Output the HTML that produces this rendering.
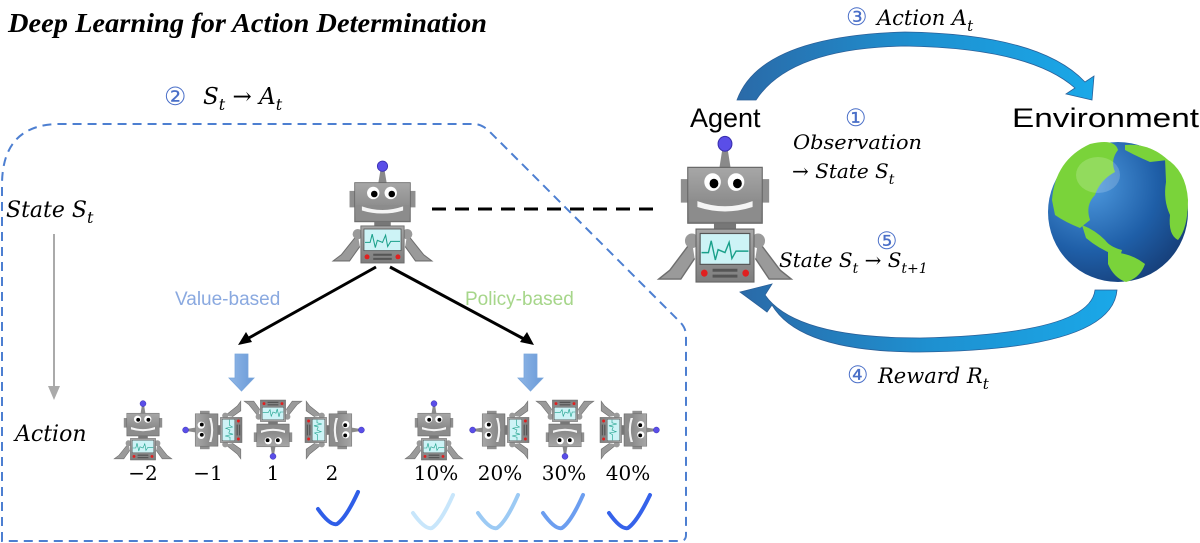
<!DOCTYPE html>
<html><head><meta charset="utf-8"><style>
html,body{margin:0;padding:0;background:#fff;}
svg{display:block;}
.m{font-family:"DejaVu Serif","Liberation Serif",serif;font-style:italic;}
.n{font-family:"DejaVu Serif","Liberation Serif",serif;}
.c{font-family:"DejaVu Sans","Liberation Sans",sans-serif;fill:#4a6fc8;}
.s{font-family:"Liberation Sans",sans-serif;}
</style></head><body>
<svg width="1200" height="543" viewBox="0 0 1200 543" xmlns="http://www.w3.org/2000/svg">
<defs>
<linearGradient id="gb" x1="0" y1="0" x2="0" y2="1"><stop offset="0" stop-color="#a7a7a7"/><stop offset="1" stop-color="#7d7d7d"/></linearGradient>
<radialGradient id="eg" cx="0.3" cy="0.3" r="0.8"><stop offset="0" stop-color="#4f9be0"/><stop offset="0.6" stop-color="#1f5fa8"/><stop offset="1" stop-color="#163e78"/></radialGradient>
<linearGradient id="ar" x1="0" y1="0" x2="1" y2="0"><stop offset="0" stop-color="#2a6aa8"/><stop offset="0.5" stop-color="#1e90d0"/><stop offset="1" stop-color="#1aa8e8"/></linearGradient>
<linearGradient id="da" x1="0" y1="0" x2="1" y2="0"><stop offset="0" stop-color="#8fb6e6"/><stop offset="1" stop-color="#6a9ad8"/></linearGradient>
<g id="rb">
 <path d="M26 72 L10 92 L2 98 L18 98 L28 84" fill="#9a9a9a" stroke="#6e6e6e" stroke-width="1"/>
 <path d="M74 72 L90 92 L98 98 L82 98 L72 84" fill="#9a9a9a" stroke="#6e6e6e" stroke-width="1"/>
 <circle cx="26" cy="72" r="5" fill="#9a9a9a"/><circle cx="74" cy="72" r="5" fill="#9a9a9a"/>
 <path d="M48 10 L52 10 L54 22 L46 22Z" fill="#8a8a8a"/>
 <circle cx="50" cy="6" r="5" fill="#5a4ee8" stroke="#3a30b0" stroke-width="0.8"/>
 <rect x="18" y="30" width="6" height="16" fill="#8f8f8f"/><rect x="76" y="30" width="6" height="16" fill="#8f8f8f"/>
 <rect x="23" y="22" width="54" height="38" fill="url(#gb)" stroke="#666" stroke-width="0.8"/>
 <rect x="24" y="44" width="52" height="15" fill="#8c8c8c"/>
 <path d="M30 45 Q50 52 70 45 L70 49 Q50 55 30 49Z" fill="#f4f4f4"/>
 <circle cx="41" cy="32" r="6" fill="#fff"/><circle cx="58" cy="32" r="6" fill="#fff"/>
 <circle cx="42" cy="33" r="3.2" fill="#000"/><circle cx="59" cy="33" r="3.2" fill="#000"/>
 <rect x="42" y="60" width="16" height="4" fill="#777"/>
 <rect x="29" y="64" width="42" height="36" fill="url(#gb)" stroke="#666" stroke-width="0.8"/>
 <rect x="32" y="67" width="36" height="21" fill="#cdf3f6" stroke="#555" stroke-width="0.8"/>
 <path d="M33 80 L38 80 L40 72 L43 85 L45 78 L50 80 L53 73 L55 84 L58 79 L67 79" fill="none" stroke="#1aa08a" stroke-width="1"/>
 <circle cx="35" cy="94" r="2.4" fill="#e02020"/><circle cx="65" cy="94" r="2.4" fill="#e02020"/>
 <rect x="41" y="91" width="18" height="2" fill="#555"/><rect x="41" y="95" width="18" height="2" fill="#555"/>
</g>
</defs>

<text x="8" y="32" font-family="Liberation Serif,serif" font-weight="bold" font-style="italic" font-size="27" textLength="479" lengthAdjust="spacingAndGlyphs">Deep Learning for Action Determination</text>

<text x="164" y="105" class="c" font-size="25" font-weight="200">②</text>
<text x="203" y="104" class="m" font-size="23">S<tspan font-size="16" dy="6">t</tspan><tspan dy="-6" font-style="normal"> → </tspan>A<tspan font-size="16" dy="6">t</tspan></text>

<path d="M2 541 L2 185 Q2 124 60 124 L474 124 Q482 124 490 132 L680 322 Q686 328 686 336 L686 535 Q686 541 680 541 Z" fill="none" stroke="#4d7fd1" stroke-width="2" stroke-dasharray="9,6"/>

<text x="6" y="217" class="m" font-size="22">State S<tspan font-size="16" dy="6">t</tspan></text>
<line x1="54" y1="234" x2="54" y2="392" stroke="#aaa" stroke-width="2"/>
<path d="M48 386 L54 400 L60 386Z" fill="#aaa"/>
<text x="15" y="441" class="m" font-size="22">Action</text>

<use href="#rb" transform="translate(331,160) scale(1.03)"/>
<line x1="432" y1="209" x2="662" y2="209" stroke="#000" stroke-width="3" stroke-dasharray="14,9"/>

<line x1="376" y1="267" x2="247" y2="339" stroke="#000" stroke-width="3"/>
<path d="M238 345 L246 332 L252 342Z" fill="#000"/>
<line x1="390" y1="267" x2="524" y2="339" stroke="#000" stroke-width="3"/>
<path d="M534 345 L520 342 L527 332Z" fill="#000"/>
<text x="175" y="305" class="s" font-size="19" fill="#8aa9e0">Value-based</text>
<text x="465" y="305" class="s" font-size="19" fill="#a6d68a">Policy-based</text>

<path d="M235 354 H248 V378 H254 L241.5 391 L229 378 H235Z" fill="url(#da)" stroke="#7aa6dc" stroke-width="0.8"/>
<path d="M524 354 H537 V378 H543 L530.5 391 L518 378 H524Z" fill="url(#da)" stroke="#7aa6dc" stroke-width="0.8"/>

<use href="#rb" transform="translate(143,430) scale(0.6) translate(-50,-50)"/>
<use href="#rb" transform="translate(212,430) rotate(-90) scale(0.6) translate(-50,-50)"/>
<use href="#rb" transform="translate(273,430) rotate(180) scale(0.6) translate(-50,-50)"/>
<use href="#rb" transform="translate(335,430) rotate(90) scale(0.6) translate(-50,-50)"/>
<use href="#rb" transform="translate(434,430) scale(0.6) translate(-50,-50)"/>
<use href="#rb" transform="translate(499,430) rotate(-90) scale(0.6) translate(-50,-50)"/>
<use href="#rb" transform="translate(565,430) rotate(180) scale(0.6) translate(-50,-50)"/>
<use href="#rb" transform="translate(630,430) rotate(90) scale(0.6) translate(-50,-50)"/>

<g class="n" font-size="20" text-anchor="middle">
<text x="143" y="480">−2</text><text x="208" y="480">−1</text><text x="273" y="480">1</text><text x="332" y="480">2</text>
<text x="436" y="480">10%</text><text x="500" y="480">20%</text><text x="564" y="480">30%</text><text x="628" y="480">40%</text>
</g>

<g fill="none" stroke-width="4" stroke-linecap="round">
<path d="M318 509 Q330 526 337 524 Q346 518 358 492" stroke="#2f5ee8"/>
<path d="M413 513 Q425 530 432 528 Q441 522 453 495" stroke="#c8e6fb"/>
<path d="M478 513 Q490 530 497 528 Q506 522 518 495" stroke="#9ccaf4"/>
<path d="M543 513 Q555 530 562 528 Q571 522 583 495" stroke="#6c9ef0"/>
<path d="M609 513 Q621 530 628 528 Q637 522 650 495" stroke="#3562ea"/>
</g>

<text x="690" y="127" class="s" font-size="27">Agent</text>
<text x="1012" y="127" class="s" font-size="27" textLength="187" lengthAdjust="spacingAndGlyphs">Environment</text>
<use href="#rb" transform="translate(656,135) scale(1.38,1.47)"/>

<path d="M737 100 Q760 36 905 32 Q1040 34 1085 82 L1094 76 L1092 100 L1066 94 L1075 88 Q1030 48 905 46 Q790 48 756 100Z" fill="url(#ar)" stroke="#2a5f98" stroke-width="0.8"/>
<path d="M1095 290 L1117 290 Q1112 350 920 352 Q800 352 772 305 L767 312 L740 292 L772 284 L765 295 Q795 338 920 338 Q1090 334 1095 290Z" fill="url(#ar)" stroke="#2a5f98" stroke-width="0.8"/>

<text x="846" y="25" class="c" font-size="24" font-weight="200">③</text>
<text x="877" y="25" class="m" font-size="21">Action A<tspan font-size="15" dy="6">t</tspan></text>
<text x="845" y="126" class="c" font-size="24" font-weight="200">①</text>
<text x="793" y="149" class="m" font-size="20" textLength="129" lengthAdjust="spacingAndGlyphs">Observation</text>
<text x="792" y="178" class="m" font-size="20"><tspan font-style="normal">→ </tspan>State S<tspan font-size="14" dy="6">t</tspan></text>
<text x="876" y="249" class="c" font-size="24" font-weight="200">⑤</text>
<text x="779" y="267" class="m" font-size="20">State S<tspan font-size="14" dy="6">t</tspan><tspan dy="-6" font-style="normal"> → </tspan>S<tspan font-size="14" dy="6">t+1</tspan></text>
<text x="847" y="383" class="c" font-size="24" font-weight="200">④</text>
<text x="878" y="383" class="m" font-size="21">Reward R<tspan font-size="15" dy="6">t</tspan></text>

<circle cx="1118" cy="212" r="70" fill="url(#eg)"/>
<path d="M1052 200 Q1055 160 1090 144 Q1115 138 1118 150 Q1110 160 1115 172 Q1100 180 1095 195 Q1085 205 1090 220 L1080 228 Q1065 222 1055 215Z" fill="#7ad33a"/>
<path d="M1082 225 Q1095 230 1105 240 Q1110 247 1122 250 L1120 257 Q1100 250 1086 238Z" fill="#7ad33a"/>
<path d="M1108 252 Q1130 252 1145 264 Q1140 278 1126 282 Q1114 278 1108 264Z" fill="#7ad33a"/>
<path d="M1165 158 Q1186 170 1188 200 Q1188 228 1178 240 Q1168 235 1170 215 Q1163 200 1166 182Z" fill="#7ad33a"/>
<path d="M1125 145 Q1150 143 1168 160 L1150 162 Q1136 156 1125 150Z" fill="#7ad33a"/>
<ellipse cx="1098" cy="175" rx="22" ry="18" fill="#fff" opacity="0.18"/>
</svg>
</body></html>
